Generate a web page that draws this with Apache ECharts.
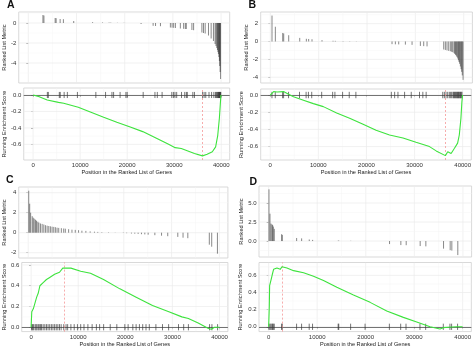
<!DOCTYPE html>
<html><head><meta charset="utf-8">
<script src="https://cdn.jsdelivr.net/npm/echarts@6/dist/echarts.min.js"></script>
<style>html,body{margin:0;padding:0;background:#fff}#c{width:474px;height:348px}</style>
</head><body><div id="c"></div>
<script>
// ---------- DATA ----------
const xTicks = [0, 10000, 20000, 30000, 40000];
const xMinor = [5000, 15000, 25000, 35000];
const xTitle = 'Position in the Ranked List of Genes';
const metricTitle = 'Ranked List Metric';
const esTitle = 'Running Enrichment Score';

// hits: [rank, ranked list metric]
const hitsA = [[3030,0.8],[3240,0.75],[5570,0.5],[5770,0.48],[6600,0.4],[7280,0.38],[9420,0.2],[13340,0.08],[15400,0.05],[16760,0.04],[17110,0.035],[18490,0.02],[19730,0.01],[20000,0.01],[23400,-0.1],[25900,-0.28],[26400,-0.3],[27420,-0.32],[29480,-0.45],[29830,-0.47],[30160,-0.48],[30520,-0.5],[31550,-0.55],[32230,-0.58],[32580,-0.6],[32780,-0.6],[33950,-0.7],[34300,-0.72],[36020,-0.95],[36350,-1.0],[36700,-1.05],[37390,-1.25],[37940,-1.55],[38420,-1.8],[38760,-2.1],[38950,-2.3],[39110,-2.5],[39250,-2.7],[39350,-2.9],[39450,-3.1],[39550,-3.4],[39650,-3.8],[39720,-4.3],[39800,-4.9],[39900,-5.6]];
const hitsB = [[350,2.9],[1040,1.65],[2560,0.95],[2770,0.9],[3800,0.7],[6080,0.4],[7450,0.3],[7930,0.28],[8620,0.25],[10690,0.15],[12970,0.08],[13440,0.07],[15040,0.04],[16420,0.03],[17800,0.02],[25170,-0.3],[25860,-0.32],[26550,-0.33],[27930,-0.35],[29310,-0.38],[31030,-0.5],[31720,-0.52],[32410,-0.55],[35860,-0.9],[36200,-0.95],[36540,-1.0],[36890,-1.05],[37230,-1.1],[37500,-1.15],[37720,-1.2],[38000,-1.3],[38140,-1.4],[38300,-1.5],[38470,-1.6],[38600,-1.75],[38760,-1.9],[38900,-2.1],[39030,-2.3],[39150,-2.5],[39300,-2.8],[39450,-3.1],[39580,-3.4],[39700,-3.8],[39860,-4.3]];
const hitsC = [[100,4.2],[300,2.9],[500,2.0],[830,1.65],[1040,1.5],[1250,1.4],[1520,1.3],[1730,1.2],[2010,1.1],[2220,1.0],[2560,0.92],[2910,0.88],[3260,0.82],[3600,0.75],[3950,0.7],[4300,0.67],[4640,0.64],[4990,0.6],[5340,0.58],[5680,0.55],[6030,0.5],[6380,0.48],[6930,0.45],[7420,0.42],[7760,0.4],[8450,0.35],[9150,0.3],[9840,0.28],[10530,0.25],[11230,0.2],[12060,0.18],[12960,0.13],[13860,0.1],[14550,0.08],[15400,0.05],[16800,0.04],[18200,0.02],[19900,-0.03],[20600,-0.05],[21600,-0.08],[22300,-0.1],[23000,-0.12],[23700,-0.15],[24400,-0.17],[25100,-0.2],[26500,-0.25],[27900,-0.3],[29200,-0.35],[31300,-0.42],[32400,-0.5],[33400,-0.55],[37900,-1.2],[38400,-1.4],[39600,-2.1]];
const hitsD = [[60,6.8],[270,3.6],[470,2.3],[680,2.2],[820,2.1],[960,1.9],[1160,1.6],[2670,0.9],[2810,0.8],[5760,0.4],[6790,0.35],[8360,0.2],[9050,0.15],[14330,0.05],[14450,0.04],[16900,0.03],[19880,0.02],[24890,-0.4],[27220,-0.53],[28320,-0.55],[31200,-0.66],[32370,-0.7],[36010,-1.0],[37380,-1.2],[37720,-1.25],[38950,-1.85]];

// running enrichment score: [rank, score]
const esA = [[0,0],[1300,-0.02],[3000,-0.06],[3100,-0.05],[5400,-0.09],[6500,-0.10],[9600,-0.15],[12300,-0.21],[15000,-0.27],[17800,-0.33],[20500,-0.385],[23300,-0.445],[26000,-0.52],[28800,-0.60],[30200,-0.64],[31500,-0.65],[32900,-0.68],[34300,-0.71],[36000,-0.74],[37000,-0.72],[38100,-0.69],[38800,-0.63],[39250,-0.49],[39600,-0.28],[39900,-0.02],[39950,0]];
const esB = [[0,0],[700,0.04],[1400,0.035],[2760,0.04],[3800,0.01],[4830,-0.02],[6900,-0.06],[8960,-0.10],[11030,-0.135],[13800,-0.21],[16500,-0.27],[19300,-0.34],[22000,-0.41],[24800,-0.465],[27600,-0.50],[30300,-0.55],[33100,-0.60],[34500,-0.65],[36400,-0.705],[36900,-0.66],[37600,-0.68],[38300,-0.62],[38950,-0.56],[39300,-0.465],[39640,-0.27],[39840,-0.08],[39980,0]];
const esC = [[0,0],[140,0.15],[485,0.18],[830,0.19],[1180,0.29],[1525,0.33],[1870,0.40],[2560,0.43],[3260,0.46],[3950,0.48],[4990,0.51],[6030,0.53],[6720,0.57],[7070,0.58],[8450,0.57],[10530,0.54],[12610,0.52],[15380,0.46],[18850,0.37],[22310,0.29],[25780,0.21],[29250,0.15],[32020,0.10],[33400,0.085],[35480,0.04],[37560,-0.01],[38250,-0.02],[38950,0],[39990,0]];
const esD = [[0,0],[135,0.24],[200,0.48],[340,0.49],[545,0.56],[750,0.61],[1020,0.67],[1230,0.69],[1710,0.685],[2400,0.67],[2740,0.70],[3770,0.685],[5140,0.655],[7200,0.63],[9250,0.59],[11310,0.54],[14060,0.46],[17490,0.37],[20920,0.285],[24350,0.185],[27780,0.11],[30530,0.055],[33270,0],[35330,-0.026],[36010,-0.01],[37040,-0.005],[37380,0.01],[38750,0],[39990,0]];

// y tick labels
const metricTicksA = [-4,-2,0], metricMinorA = [-5,-3,-1,1];
const metricTicksB = [-4,-2,0,2], metricMinorB = [-3,-1,1,3];
const metricTicksC = [-2,0,2,4], metricMinorC = [-1,1,3];
const metricTicksD = [0,2.5,5], metricMinorD = [-1.25,1.25,3.75,6.25];
const esTicksAB = [-0.6,-0.4,-0.2,0], esMinorAB = [-0.7,-0.5,-0.3,-0.1];
const esTicksCD = [0,0.2,0.4,0.6], esMinorCD = [0.1,0.3,0.5,0.7];

// ---------- LAYOUT ----------
const FONT = 'Liberation Sans';
const xRange = [-1990, 41790];
const panels = [
  {letter:'A', lx:7, ly:0, hits:hitsA, es:esA, left:17.4, width:212.3,
   top:{top:12, height:71, min:-6.0, max:1.1, ticks:metricTicksA, minor:metricMinorA, dec:0, gap:9.7},
   bot:{top:88, height:72, min:-0.79, max:0.085, ticks:esTicksAB, minor:esMinorAB, dec:1, gap:11.3}},
  {letter:'B', lx:248.5, ly:0, hits:hitsB, es:esB, left:260.7, width:211.7,
   top:{top:12, height:71, min:-4.65, max:3.3, ticks:metricTicksB, minor:metricMinorB, dec:0, gap:7},
   bot:{top:89, height:71, min:-0.756, max:0.07, ticks:esTicksAB, minor:esMinorAB, dec:1, gap:16}},
  {letter:'C', lx:6, ly:174.7, hits:hitsC, es:esC, left:16.4, width:211.5,
   top:{top:187, height:71, min:-2.53, max:4.57, ticks:metricTicksC, minor:metricMinorC, dec:0, gap:8.6}, 
   bot:{top:262.5, height:71, min:-0.042, max:0.624, ticks:esTicksCD, minor:esMinorCD, dec:1, gap:10.3}},
  {letter:'D', lx:249.5, ly:176.3, hits:hitsD, es:esD, left:259, width:212.6,
   top:{top:186, height:71, min:-2.1, max:7.24, ticks:metricTicksD, minor:metricMinorD, dec:1, gap:14.2},
   bot:{top:262.5, height:72.5, min:-0.056, max:0.75, ticks:esTicksCD, minor:esMinorCD, dec:1, gap:16}}
];

const grids = [], xAxes = [], yAxes = [], series = [], graphics = [];

function segItem(params, api) {
  const x = api.value(0);
  const p0 = api.coord([x, api.value(1)]);
  const p1 = api.coord([x, api.value(2)]);
  return {type:'line', shape:{x1:p0[0], y1:p0[1], x2:p1[0], y2:p1[1]},
          style:{stroke: params.seriesName === 'bars' ? 'rgba(30,30,30,0.7)' : '#1a1a1a', lineWidth: params.seriesName === 'bars' ? 0.75 : 0.6}};
}
function gridLineItem(params, api) {
  const cs = params.coordSys;
  const dir = api.value(0), v = api.value(1), major = api.value(2);
  const style = {stroke: major ? '#ebebeb' : '#f5f5f5', lineWidth: major ? 0.7 : 0.5};
  if (dir === 0) {
    const x = api.coord([v, 0])[0];
    return {type:'line', shape:{x1:x, y1:cs.y, x2:x, y2:cs.y + cs.height}, style};
  }
  const y = api.coord([0, v])[1];
  return {type:'line', shape:{x1:cs.x, y1:y, x2:cs.x + cs.width, y2:y}, style};
}

panels.forEach((p, i) => {
  [p.top, p.bot].forEach((g, k) => {
    const gi = grids.length;
    const isBot = k === 1;
    grids.push({left:p.left, top:g.top, width:p.width, height:g.height, show:true,
      borderColor:'#cfcfcf', borderWidth:0.8, backgroundColor:'#fff', containLabel:false});
    xAxes.push({type:'value', gridIndex:gi, min:xRange[0], max:xRange[1],
      axisLine:{show:false}, splitLine:{show:false},
      axisTick:{show:isBot, customValues:xTicks, length:2, lineStyle:{color:'#555', width:0.6}},
      axisLabel:{show:isBot, customValues:xTicks, margin:2.5, fontSize:6, color:'#333', fontFamily:FONT, formatter:v => String(v)},
      name: isBot ? xTitle : '', nameLocation:'middle', nameGap:9,
      nameTextStyle:{fontSize:5.6, color:'#222', fontFamily:FONT}});
    yAxes.push({type:'value', gridIndex:gi, min:g.min, max:g.max,
      axisLine:{show:false}, splitLine:{show:false},
      axisTick:{show:true, customValues:g.ticks, length:2, lineStyle:{color:'#555', width:0.6}},
      axisLabel:{customValues:g.ticks, margin:2.5, fontSize:6, color:'#333', fontFamily:FONT, formatter:v => Number(v).toFixed(g.dec)},
      name: isBot ? esTitle : metricTitle, nameLocation:'middle', nameGap:g.gap,
      nameTextStyle:{fontSize:5.6, color:'#222', fontFamily:FONT}});
    // background grid lines from the tick arrays
    const gl = [];
    xTicks.forEach(v => gl.push([0, v, 1])); xMinor.forEach(v => gl.push([0, v, 0]));
    g.ticks.forEach(v => gl.push([1, v, 1])); g.minor.forEach(v => gl.push([1, v, 0]));
    series.push({type:'custom', name:'grid', xAxisIndex:gi, yAxisIndex:gi, renderItem:gridLineItem,
      data:gl, silent:true, z:1, clip:true, encode:{x:[], y:[]}});
    if (!isBot) {
      series.push({type:'custom', name:'bars', xAxisIndex:gi, yAxisIndex:gi, renderItem:segItem, clip:true,
        data:p.hits.map(h => [h[0], 0, h[1]]), encode:{x:0, y:[1,2]}, silent:true, z:3});
    } else {
      const vals = p.es.map(e => e[1]);
      const esMax = Math.max(...vals), esMin = Math.min(...vals);
      const h = (esMax - esMin) / 20;
      const ext = Math.abs(esMax) > Math.abs(esMin) ? esMax : esMin;
      const peak = p.es.find(e => e[1] === ext)[0];
      series.push({type:'custom', name:'hits', xAxisIndex:gi, yAxisIndex:gi, renderItem:segItem, clip:true,
        data:p.hits.map(hh => [hh[0], -h, h]), encode:{x:0, y:[1,2]}, silent:true, z:3});
      series.push({type:'line', xAxisIndex:gi, yAxisIndex:gi, data:p.es, showSymbol:false, symbol:'none',
        lineStyle:{color:'#3de33d', width:1.1}, z:5, silent:true, clip:true,
        markLine:{silent:true, symbol:['none','none'], label:{show:false}, animation:false,
          data:[{yAxis:0, lineStyle:{color:'#3a3a3a', width:0.7, type:'solid'}},
                {xAxis:peak, lineStyle:{color:'#f48a8a', width:0.7, type:[2,2]}}]}});
    }
  });
  graphics.push({type:'text', left:p.lx, top:p.ly, style:{text:p.letter, font:'bold 10.5px ' + FONT, fill:'#111'}});
});

const chart = echarts.init(document.getElementById('c'), null, {renderer:'canvas'});
chart.setOption({animation:false, backgroundColor:'#fff', grid:grids, xAxis:xAxes, yAxis:yAxes, series, graphic:graphics});
</script></body></html>
